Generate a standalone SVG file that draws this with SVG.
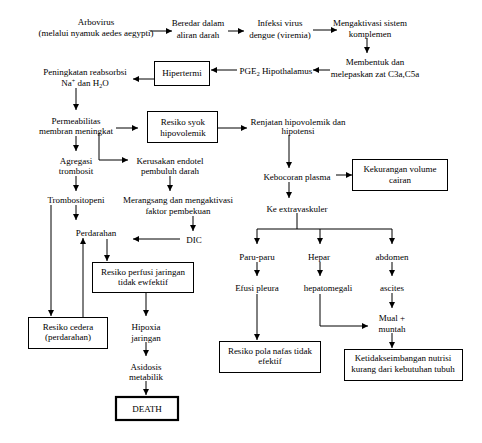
<svg xmlns="http://www.w3.org/2000/svg" width="482" height="443" viewBox="0 0 482 443">
<style>
text{font-family:"Liberation Serif","Times New Roman",serif;font-size:9px;fill:#000;text-anchor:middle}
.box{fill:#fff;stroke:#000;stroke-width:1}
.thick{fill:#fff;stroke:#000;stroke-width:2.2}
.c path{fill:none;stroke:#000;stroke-width:1;marker-end:url(#a)}
.c path.n{marker-end:none}
</style>
<defs>
<marker id="a" markerUnits="userSpaceOnUse" markerWidth="7" markerHeight="7" refX="6" refY="3" orient="auto">
<path d="M0,0 L6,3 L0,6 z" fill="#000"/>
</marker>
</defs>
<rect width="482" height="443" fill="#fff"/>
<g class="c" id="connectors">
<path d="M150,31 H172"/>
<path d="M228,31 H244"/>
<path d="M313,30 H337"/>
<path d="M367,38 V53"/>
<path d="M330,70 H313"/>
<path d="M237,70 H211"/>
<path d="M154,79 H133"/>
<path d="M76,88 V110"/>
<path d="M116,128 H138"/>
<path d="M218,128 H247"/>
<path d="M289,135 V168"/>
<path d="M336,175 H352"/>
<path d="M289,182 V198"/>
<path class="n" d="M297,213 V229 M257,229 H392"/>
<path d="M257,229 V244"/>
<path d="M320,229 V244"/>
<path d="M392,229 V244"/>
<path d="M257,262 V276"/>
<path d="M320,262 V276"/>
<path d="M392,262 V276"/>
<path d="M392,293 V308"/>
<path d="M320,294 V326 H368"/>
<path d="M257,294 V340"/>
<path d="M392,333 V348"/>
<path d="M76,136 V151"/>
<path d="M99,133 V160 H128"/>
<path d="M76,176 V191"/>
<path d="M170,176 V191"/>
<path d="M193,216 V231"/>
<path d="M180,239 H133"/>
<path d="M76,205 V220"/>
<path d="M51,205 V316"/>
<path d="M83,317 V238"/>
<path d="M107,239 V261"/>
<path d="M146,293 V316"/>
<path d="M146,342 V356"/>
<path d="M146,381 V395"/>
</g>
<g id="arbovirus"><text x="96" y="25">Arbovirus</text><text x="96" y="36">(melalui nyamuk aedes aegypti)</text></g>
<g id="beredar"><text x="198" y="26">Beredar dalam</text><text x="198" y="38">aliran darah</text></g>
<g id="infeksi"><text x="280" y="26">Infeksi virus</text><text x="280" y="38">dengue (viremia)</text></g>
<g id="mengaktivasi"><text x="370" y="26">Mengaktivasi sistem</text><text x="370" y="37">komplemen</text></g>
<g id="membentuk"><text x="375" y="65">Membentuk dan</text><text x="375" y="77">melepaskan zat C3a,C5a</text></g>
<g id="pge2"><text x="276" y="74">PGE<tspan font-size="6" dy="2">2</tspan><tspan dy="-2"> Hipothalamus</tspan></text></g>
<g id="hipertermi"><rect class="box" x="154.5" y="61.5" width="55" height="24"/><text x="182" y="76">Hipertermi</text></g>
<g id="peningkatan"><text x="85" y="75">Peningkatan reabsorbsi</text><text x="85" y="86">Na<tspan font-size="6" dy="-3">+</tspan><tspan dy="3"> dan H</tspan><tspan font-size="6" dy="2">2</tspan><tspan dy="-2">O</tspan></text></g>
<g id="permeabilitas"><text x="76" y="124">Permeabilitas</text><text x="76" y="134">membran meningkat</text></g>
<g id="resiko-syok"><rect class="box" x="147.5" y="111.5" width="70" height="31"/><text x="183" y="125">Resiko syok</text><text x="183" y="136">hipovolemik</text></g>
<g id="renjatan"><text x="298" y="125">Renjatan hipovolemik dan</text><text x="298" y="134">hipotensi</text></g>
<g id="kebocoran"><text x="297" y="180">Kebocoran plasma</text></g>
<g id="kekurangan"><rect class="box" x="352.5" y="159.5" width="95" height="31"/><text x="400" y="172">Kekurangan volume</text><text x="400" y="183">cairan</text></g>
<g id="extravaskuler"><text x="297" y="212">Ke extravaskuler</text></g>
<g id="paru"><text x="257" y="260">Paru-paru</text></g>
<g id="hepar"><text x="319" y="260">Hepar</text></g>
<g id="abdomen"><text x="392" y="260">abdomen</text></g>
<g id="efusi"><text x="257" y="291">Efusi pleura</text></g>
<g id="hepatomegali"><text x="328" y="291">hepatomegali</text></g>
<g id="ascites"><text x="392" y="291">ascites</text></g>
<g id="mual"><text x="392" y="321">Mual +</text><text x="392" y="332">muntah</text></g>
<g id="resiko-pola"><rect class="box" x="219.5" y="341.5" width="101" height="31"/><text x="270" y="354">Resiko pola nafas tidak</text><text x="270" y="364">efektif</text></g>
<g id="ketidakseimbangan"><rect class="box" x="344.5" y="349.5" width="118" height="31"/><text x="403" y="361">Ketidakseimbangan nutrisi</text><text x="403" y="372">kurang dari kebutuhan tubuh</text></g>
<g id="agregasi"><text x="76" y="164">Agregasi</text><text x="76" y="174">trombosit</text></g>
<g id="kerusakan"><text x="170" y="164">Kerusakan endotel</text><text x="170" y="174">pembuluh darah</text></g>
<g id="trombositopeni"><text x="76" y="203">Trombositopeni</text></g>
<g id="merangsang"><text x="178" y="203">Merangsang dan mengaktivasi</text><text x="178" y="214">faktor pembekuan</text></g>
<g id="dic"><text x="194" y="243">DIC</text></g>
<g id="perdarahan"><text x="96" y="236">Perdarahan</text></g>
<g id="resiko-perfusi"><rect class="box" x="92.5" y="262.5" width="101" height="30"/><text x="143" y="275">Resiko perfusi jaringan</text><text x="143" y="285">tidak ewfektif</text></g>
<g id="resiko-cedera"><rect class="box" x="28.5" y="317.5" width="79" height="31"/><text x="68" y="330">Resiko cedera</text><text x="68" y="340">(perdarahan)</text></g>
<g id="hipoxia"><text x="146" y="330">Hipoxia</text><text x="146" y="341">jaringan</text></g>
<g id="asidosis"><text x="146" y="370">Asidosis</text><text x="146" y="380">metabilik</text></g>
<g id="death"><rect class="thick" x="116" y="397" width="62" height="23"/><text x="147" y="412">DEATH</text></g>
</svg>
